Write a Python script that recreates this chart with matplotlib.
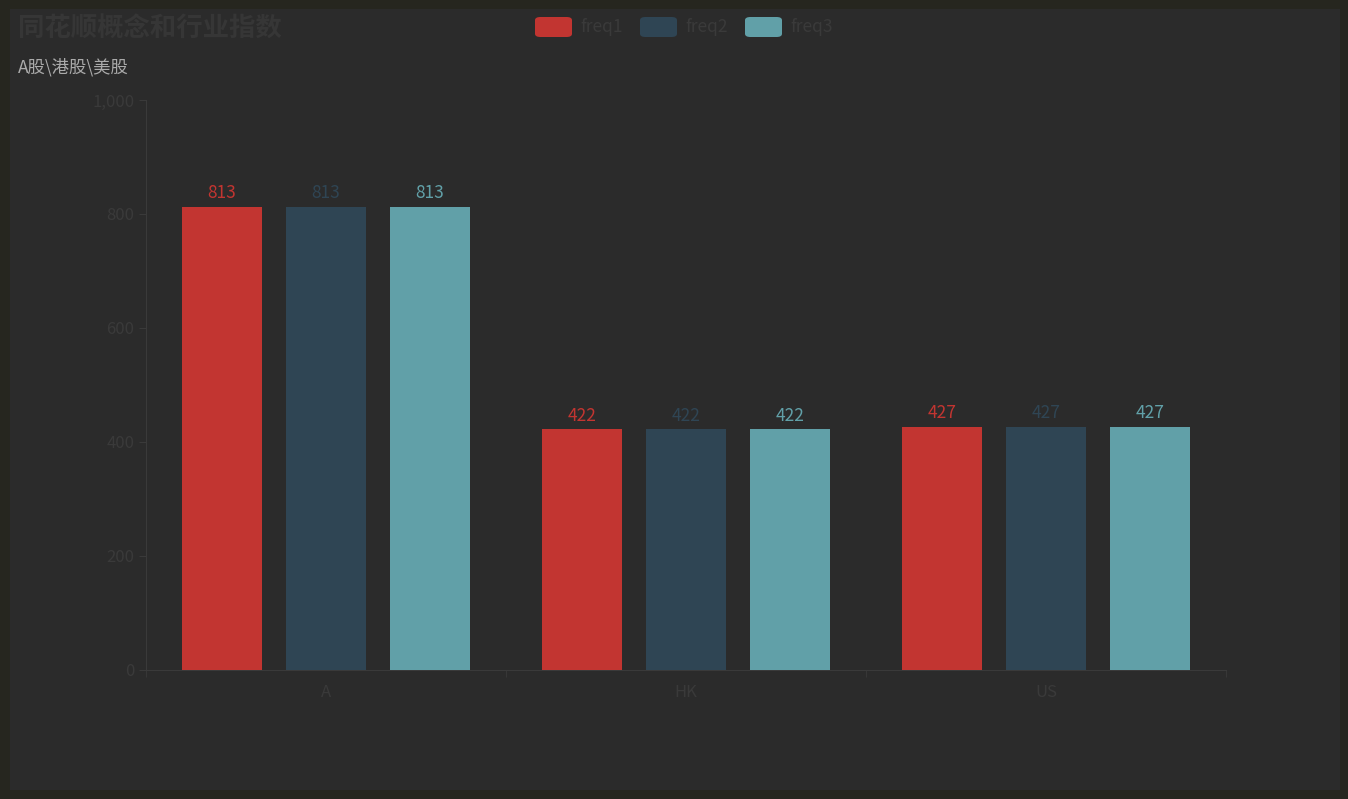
import matplotlib
matplotlib.use("Agg")
import matplotlib.pyplot as plt
from matplotlib.patches import Rectangle, FancyBboxPatch
import numpy as np

plt.rcParams['font.family'] = ['Noto Sans CJK SC', 'DejaVu Sans']

categories = ["A", "HK", "US"]
series_names = ["freq1", "freq2", "freq3"]
freq1 = [813, 422, 427]
freq2 = [813, 422, 427]
freq3 = [813, 422, 427]
yticks = [0, 200, 400, 600, 800, 1000]
ytick_labels = ["0", "200", "400", "600", "800", "1,000"]
colors = ["#c23531", "#2f4554", "#61a0a8"]

W, H = 1348, 799
fig = plt.figure(figsize=(W/100, H/100), dpi=100)
fig.patch.set_facecolor("#26261f")
fig.patches.append(Rectangle((10/W, 9/H), 1330/W, 781/H, transform=fig.transFigure,
                             facecolor="#2b2b2b", edgecolor="none", zorder=-5))

ax = fig.add_axes([146/W, 1-670/H, 1080/W, 570/H])
ax.set_zorder(5)
ax.patch.set_alpha(0)
x = np.arange(len(categories))
bw = 80/360
off = 104/360
for i, (vals, c) in enumerate(zip([freq1, freq2, freq3], colors)):
    pos = x + (i-1)*off
    ax.bar(pos, vals, width=bw, color=c, zorder=3)
    for p, v in zip(pos, vals):
        ax.text(p, v+8, str(v), ha="center", va="bottom", color=c, fontsize=12.5)

ax.set_xlim(-0.5, 2.5)
ax.set_ylim(0, 1000)
ax.set_yticks(yticks)
ax.set_yticklabels(ytick_labels)
ax.set_xticks(x)
ax.set_xticklabels(categories)
ax.set_xticks([-0.5, 0.5, 1.5, 2.5], minor=True)
ax.tick_params(axis="x", which="major", length=0, pad=10, colors="#3a3a3a", labelsize=12)
ax.tick_params(axis="x", which="minor", length=5, color="#3a3a3a")
ax.tick_params(axis="y", length=5, color="#3a3a3a", colors="#3a3a3a", labelsize=12)
for s in ["top", "right"]:
    ax.spines[s].set_visible(False)
for s in ["left", "bottom"]:
    ax.spines[s].set_color("#3a3a3a")

fig.text(18/W, 1-29/H, "同花顺概念和行业指数", fontsize=19, fontweight="bold", color="#363636", va="center")
fig.text(18/W, 1-67/H, "A股\\港股\\美股", fontsize=12.5, color="#aaaaaa", va="center")

lx = [535, 640, 745]
for xx, name, c in zip(lx, series_names, colors):
    fig.patches.append(FancyBboxPatch((xx/W, 1-37/H), 37/W, 20/H, boxstyle="round,pad=0,rounding_size=0.004",
                                      transform=fig.transFigure, facecolor=c, edgecolor="none", zorder=1))
    fig.text((xx+45)/W, 1-27/H, name, fontsize=12.5, color="#3a3a3a", va="center")

fig.savefig("out.png", dpi=100, facecolor=fig.get_facecolor())
